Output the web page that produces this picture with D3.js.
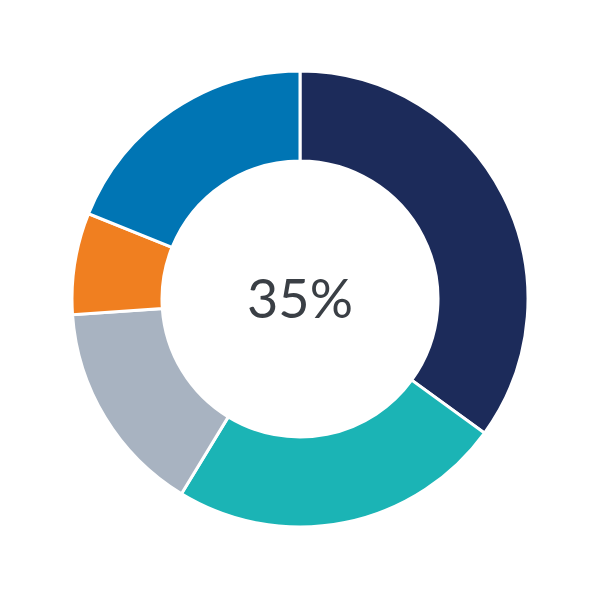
<!DOCTYPE html>
<html lang="en">
<head>
    <meta charset="UTF-8">
    <title>Donut</title>
    <script src="https://d3js.org/d3.v7.min.js"></script>
    <style>
        body { margin: 0; padding: 0; background: #fff; }
    </style>
</head>
<body>
    <svg width="600" height="600"></svg>
    <script>
        // slices, clockwise from 12 o'clock
        const labels = ["A", "B", "C", "D", "E"];
        const values = [35, 23.7, 15.2, 7.2, 18.9];
        const colors = ["#1c2b5a", "#1bb4b5", "#a8b3c1", "#f07f20", "#0075b4"];
        const centerLabel = "35%";

        const svg = d3.select("svg");
        const cx = 300, cy = 299;

        const pie = d3.pie().sort(null).value(d => d.value);
        const arc = d3.arc().innerRadius(138).outerRadius(228);

        const data = labels.map((l, i) => ({ label: l, value: values[i], color: colors[i] }));

        const g = svg.append("g").attr("transform", `translate(${cx},${cy})`);

        g.selectAll("path")
            .data(pie(data))
            .enter()
            .append("path")
            .attr("d", arc)
            .attr("fill", d => d.data.color)
            .attr("stroke", "#fff")
            .attr("stroke-width", 3)
            .attr("stroke-linejoin", "miter");

        g.append("text")
            .attr("text-anchor", "middle")
            .attr("dy", "0.35em")
            .attr("font-family", "Lato, 'Open Sans', sans-serif")
            .attr("font-weight", 400)
            .attr("font-size", 54)
            .attr("fill", "#3a3f45")
            .text(centerLabel);
    </script>
</body>
</html>
